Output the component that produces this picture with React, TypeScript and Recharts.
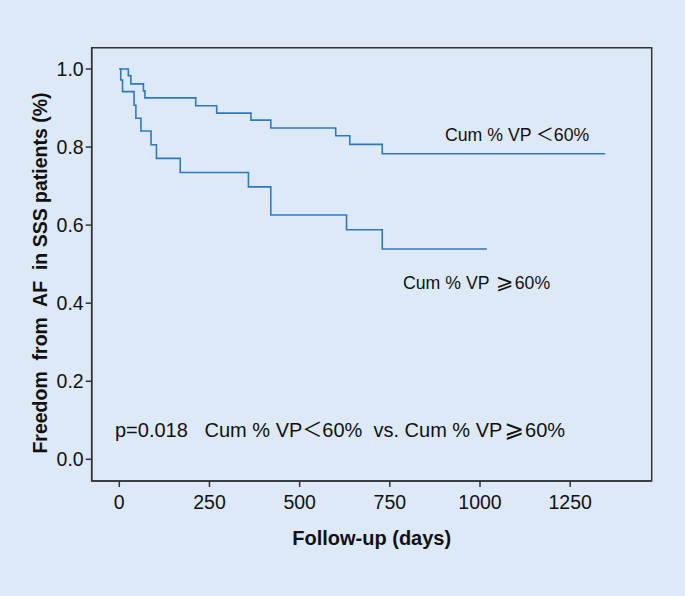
import { LineChart, Line, XAxis, YAxis, ReferenceArea, Customized } from 'recharts'

// Kaplan-Meier steps (day, survival)
const lowVpDays = [0, 25, 32, 67, 71, 212, 270, 365, 420, 600, 639, 729, 1347]
const lowVpSurv = [1.0, 0.983, 0.962, 0.944, 0.926, 0.906, 0.887, 0.869, 0.849, 0.829, 0.807, 0.783, 0.783]

const highVpDays = [0, 4, 9, 41, 46, 60, 88, 103, 169, 358, 420, 630, 729, 1019]
const highVpSurv = [1.0, 0.972, 0.942, 0.907, 0.874, 0.841, 0.806, 0.771, 0.735, 0.698, 0.626, 0.588, 0.539, 0.539]

const xTicks = [0, 250, 500, 750, 1000, 1250]
const yTicks = [0, 0.2, 0.4, 0.6, 0.8, 1.0]

const X_DOMAIN: [number, number] = [-76.5, 1476]
const Y_DOMAIN: [number, number] = [-0.0556, 1.0546]

const toRows = (days: number[], surv: number[]) => days.map((d, i) => ({ day: d, surv: surv[i] }))
const lowVpData = toRows(lowVpDays, lowVpSurv)
const highVpData = toRows(highVpDays, highVpSurv)

const FONT = "'Liberation Sans', Arial, Helvetica, sans-serif"
const CJK = "'Noto Sans CJK SC', 'DejaVu Sans', sans-serif"
const BG = '#dde9f7'
const LINE = '#2d79c1'
const AXIS = '#333'

const Titles = () => (
  <g fontFamily={FONT} fill='#111'>
    <text x={371.7} y={545} textAnchor='middle' fontSize={20} fontWeight='bold'>Follow-up (days)</text>
    <text
      x={47}
      y={273}
      textAnchor='middle'
      fontSize={19.5}
      fontWeight='bold'
      transform='rotate(-90 47 273)'
      style={{ whiteSpace: 'pre' }}
    >
      {'Freedom  from  AF  in SSS patients (%)'}
    </text>
    <text x={445} y={141} fontSize={17.7} style={{ whiteSpace: 'pre' }}>
      {'Cum % VP '}<tspan fontFamily={CJK}>＜</tspan>60%
    </text>
    <text x={403} y={289} fontSize={17.7} style={{ whiteSpace: 'pre' }}>
      {'Cum % VP '}<tspan dx={2} fontFamily={CJK} fontSize={21}>⩾</tspan><tspan dx={1}>60%</tspan>
    </text>
    <text x={115} y={437} fontSize={20} style={{ whiteSpace: 'pre' }}>
      {'p=0.018   Cum % VP'}<tspan fontFamily={CJK}>＜</tspan>{'60%  vs. Cum % VP'}
      <tspan dx={2} fontFamily={CJK} fontSize={23.5}>⩾</tspan><tspan dx={1}>60%</tspan>
    </text>
  </g>
)

export default function App() {
  return (
    <div style={{ position: 'absolute', left: 0, top: 0, width: 685, height: 596, background: BG }}>
      <LineChart
        width={685}
        height={596}
        margin={{ top: 47.7, right: 33.3, bottom: 55, left: 31.7 }}
        style={{ fontFamily: FONT }}
      >
        <XAxis
          type='number'
          dataKey='day'
          domain={X_DOMAIN}
          ticks={xTicks}
          allowDataOverflow
          height={60}
          tickSize={6}
          tickMargin={8}
          axisLine={{ stroke: AXIS, strokeWidth: 1.5 }}
          tickLine={{ stroke: AXIS, strokeWidth: 1.5 }}
          tick={{ fill: '#111', fontSize: 19.5 }}
        />
        <YAxis
          type='number'
          domain={Y_DOMAIN}
          ticks={yTicks}
          allowDataOverflow
          width={60}
          tickSize={6}
          tickMargin={2}
          tickFormatter={(v: number) => v.toFixed(1)}
          axisLine={{ stroke: AXIS, strokeWidth: 1.5 }}
          tickLine={{ stroke: AXIS, strokeWidth: 1.5 }}
          tick={{ fill: '#111', fontSize: 19.5 }}
        />
        <ReferenceArea
          x1={X_DOMAIN[0]}
          x2={X_DOMAIN[1]}
          y1={Y_DOMAIN[0]}
          y2={Y_DOMAIN[1]}
          fill='none'
          stroke={AXIS}
          strokeWidth={1.5}
          ifOverflow='visible'
        />
        <Line
          data={lowVpData}
          dataKey='surv'
          type='stepAfter'
          stroke={LINE}
          strokeWidth={1.6}
          dot={false}
          isAnimationActive={false}
        />
        <Line
          data={highVpData}
          dataKey='surv'
          type='stepAfter'
          stroke={LINE}
          strokeWidth={1.6}
          dot={false}
          isAnimationActive={false}
        />
        <Customized component={Titles} />
      </LineChart>
    </div>
  )
}
